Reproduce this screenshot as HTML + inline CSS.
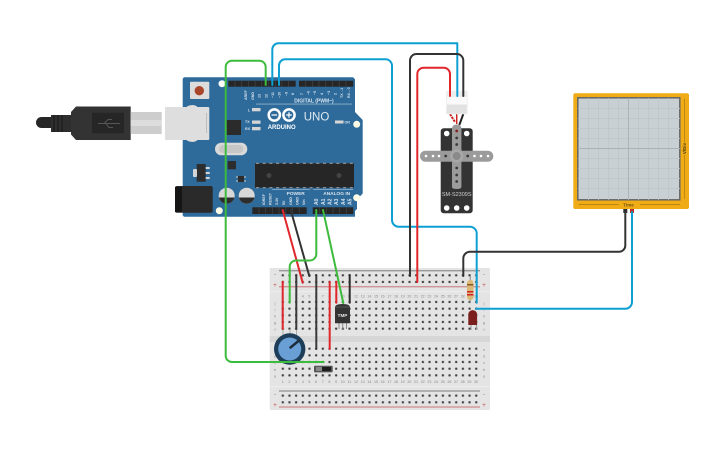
<!DOCTYPE html>
<html><head><meta charset="utf-8">
<style>
html,body{margin:0;padding:0;background:#fff;width:725px;height:453px;overflow:hidden}
svg{display:block;filter:blur(.3px)}
text{font-family:"Liberation Sans",sans-serif}
.w{fill:none;stroke-width:2;stroke-linecap:round;stroke-linejoin:round}
.pl{font-size:3.6px;fill:#d8e4ee;font-weight:bold}
.bn{font-size:3.6px;fill:#888;text-anchor:middle}
</style></head><body>
<svg width="725" height="453" viewBox="0 0 725 453" xmlns="http://www.w3.org/2000/svg">
<defs>
<pattern id="h" x="279.4" y="-0.9" width="6.67" height="6.67" patternUnits="userSpaceOnUse"><rect x="2.3" y="1.65" width="2.2" height="2.2" rx=".6" fill="#3f3f3f"/></pattern>
</defs>
<rect width="725" height="453" fill="#fff"/>

<!-- breadboard -->
<rect x="269.7" y="268" width="220.3" height="142" rx="1.5" fill="#e4e4e4"/>
<rect x="269.7" y="291.3" width="220.3" height=".8" fill="#f1f1f1"/>
<rect x="269.7" y="386.3" width="220.3" height=".8" fill="#f1f1f1"/>
<rect x="269.7" y="336" width="220.3" height="6" fill="#d7d7d7"/>
<rect x="279" y="270" width="201" height="1.4" fill="#9a9a9a"/>
<rect x="279" y="286" width="201" height="1.4" fill="#cf9494"/>
<rect x="279" y="390.3" width="201" height="1.4" fill="#9a9a9a"/>
<rect x="279" y="406.3" width="201" height="1.4" fill="#cf9494"/>
<rect x="279.4" y="273.5" width="200" height="5.5" fill="url(#h)"/>
<g transform="translate(0,6.65)"><rect x="279.4" y="273.5" width="200" height="5.5" fill="url(#h)"/></g>
<g transform="translate(0,120.3)"><rect x="279.4" y="273.5" width="200" height="5.5" fill="url(#h)"/></g>
<g transform="translate(0,127)"><rect x="279.4" y="273.5" width="200" height="5.5" fill="url(#h)"/></g>
<g fill="url(#h)">
<rect x="279.4" y="300" width="200" height="5"/>
<rect x="279.4" y="306.7" width="200" height="5"/>
<rect x="279.4" y="313.4" width="200" height="5"/>
<rect x="279.4" y="320" width="200" height="5"/>
<rect x="279.4" y="326.7" width="200" height="5"/>
<rect x="279.4" y="346.7" width="200" height="5"/>
<rect x="279.4" y="353.4" width="200" height="5"/>
<rect x="279.4" y="360" width="200" height="5"/>
<rect x="279.4" y="366.7" width="200" height="5"/>
<rect x="279.4" y="373.4" width="200" height="5"/>
</g>
<g class="bn">
<text x="275" y="304.5">j</text><text x="275" y="311">i</text><text x="275" y="317.5">h</text><text x="275" y="324">g</text><text x="275" y="331">f</text>
<text x="275" y="351">e</text><text x="275" y="357.5">d</text><text x="275" y="364">c</text><text x="275" y="371">b</text><text x="275" y="377.5">a</text>
<text x="484" y="304.5">j</text><text x="484" y="311">i</text><text x="484" y="317.5">h</text><text x="484" y="324">g</text><text x="484" y="331">f</text>
<text x="484" y="351">e</text><text x="484" y="357.5">d</text><text x="484" y="364">c</text><text x="484" y="371">b</text><text x="484" y="377.5">a</text>
<text x="282.7" y="383">1</text><text x="289.4" y="383">2</text><text x="296" y="383">3</text><text x="302.7" y="383">4</text><text x="309.4" y="383">5</text><text x="316" y="383">6</text><text x="322.7" y="383">7</text><text x="329.4" y="383">8</text><text x="336" y="383">9</text><text x="342.7" y="383">10</text><text x="349.4" y="383">11</text><text x="356" y="383">12</text><text x="362.7" y="383">13</text><text x="369.4" y="383">14</text><text x="376" y="383">15</text><text x="382.7" y="383">16</text><text x="389.4" y="383">17</text><text x="396" y="383">18</text><text x="402.7" y="383">19</text><text x="409.4" y="383">20</text><text x="416" y="383">21</text><text x="422.7" y="383">22</text><text x="429.4" y="383">23</text><text x="436" y="383">24</text><text x="442.7" y="383">25</text><text x="449.4" y="383">26</text><text x="456" y="383">27</text><text x="462.7" y="383">28</text><text x="469.4" y="383">29</text><text x="476" y="383">30</text>
<text x="282.7" y="297.5">1</text><text x="289.4" y="297.5">2</text><text x="296" y="297.5">3</text><text x="302.7" y="297.5">4</text><text x="309.4" y="297.5">5</text><text x="316" y="297.5">6</text><text x="322.7" y="297.5">7</text><text x="329.4" y="297.5">8</text><text x="336" y="297.5">9</text><text x="342.7" y="297.5">10</text><text x="349.4" y="297.5">11</text><text x="356" y="297.5">12</text><text x="362.7" y="297.5">13</text><text x="369.4" y="297.5">14</text><text x="376" y="297.5">15</text><text x="382.7" y="297.5">16</text><text x="389.4" y="297.5">17</text><text x="396" y="297.5">18</text><text x="402.7" y="297.5">19</text><text x="409.4" y="297.5">20</text><text x="416" y="297.5">21</text><text x="422.7" y="297.5">22</text><text x="429.4" y="297.5">23</text><text x="436" y="297.5">24</text><text x="442.7" y="297.5">25</text><text x="449.4" y="297.5">26</text><text x="456" y="297.5">27</text><text x="462.7" y="297.5">28</text><text x="469.4" y="297.5">29</text><text x="476" y="297.5">30</text>
</g>
<g font-size="6" text-anchor="middle">
<text x="275" y="276" fill="#777">-</text><text x="484" y="276" fill="#777">-</text>
<text x="275" y="287" fill="#c44">+</text><text x="484" y="287" fill="#c44">+</text>
<text x="275" y="396" fill="#777">-</text><text x="484" y="396" fill="#777">-</text>
<text x="275" y="407" fill="#c44">+</text><text x="484" y="407" fill="#c44">+</text>
</g>

<!-- USB cable -->
<path d="M36 122.5a5.5 5.5 0 0 1 5.5-5.5H51V128H41.500a5.500 5.500 0 0 1-5.500-5.500z" fill="#262626"/>
<path d="M51 115h20v17H51z" fill="#2e2e2e"/>
<path d="M54 115v17M58 115v17M62 115v17" stroke="#161616" stroke-width="1"/>
<path d="M71 112l5-5.500h54.700V140H76l-5-5.500z" fill="#333"/>
<rect x="92" y="112.700" width="32" height="20.600" fill="#262626"/>
<path d="M98 123.500h22M104 123.500l4-4h4M106 123.500l3 4h4" stroke="#555" stroke-width="1" fill="none"/>
<rect x="130.700" y="112" width="31" height="22" fill="#cdcdcd"/>
<rect x="130.700" y="120" width="31" height="6" fill="#dcdcdc"/>

<!-- Arduino -->
<path d="M184 77.300H353l2 2V112l7.700 8V193.500l-5.700 6V209l-2 2v5.700H184l-1.300-1.300V78.600z" fill="#2e6a9a"/>
<rect x="165" y="107" width="44.300" height="33" rx="1" fill="#dedede"/>
<path d="M187 107q6-3 10 0M187 140q6 3 10 0" fill="#dedede" stroke="#dedede"/>
<rect x="206" y="113" width="1" height="20" fill="#bbb"/>
<rect x="190" y="81.700" width="19.300" height="17.300" rx="1" fill="#dcdcdc"/>
<circle cx="199.300" cy="90.700" r="4.700" fill="#a8452a"/>
<circle cx="222" cy="83.700" r="3.500" fill="#fff"/><circle cx="356.700" cy="124.300" r="3.500" fill="#fffde8"/><circle cx="356.700" cy="197.700" r="3.500" fill="#fffde8"/><circle cx="219.300" cy="210.700" r="3.500" fill="#fffde8"/>
<rect x="228.300" y="80.700" width="67.400" height="6" fill="#262626"/>
<path d="M235 80.700v6M241.700 80.700v6M248.400 80.700v6M255.100 80.700v6M261.800 80.700v6M268.500 80.700v6M275.200 80.700v6M281.900 80.700v6M288.600 80.700v6" stroke="#484848" stroke-width=".6"/>
<rect x="299" y="80.700" width="54.300" height="6" fill="#262626"/>
<path d="M305.700 80.700v6M312.400 80.700v6M319 80.700v6M325.800 80.700v6M332.500 80.700v6M339.200 80.700v6M346 80.700v6" stroke="#484848" stroke-width=".6"/>
<rect x="252.300" y="207.300" width="54.400" height="6.700" fill="#262626"/>
<path d="M259 207.300v6.700M265.700 207.300v6.700M272.400 207.300v6.700M279 207.300v6.700M285.800 207.300v6.700M292.500 207.300v6.700M299.200 207.300v6.700" stroke="#484848" stroke-width=".6"/>
<rect x="312.700" y="207.300" width="40.600" height="6.700" fill="#262626"/>
<path d="M319.500 207.300v6.700M326.200 207.300v6.700M333 207.300v6.700M339.700 207.300v6.700M346.500 207.300v6.700" stroke="#484848" stroke-width=".6"/>

<g class="pl">
<text transform="translate(247,100) rotate(-90)">AREF</text>
<text transform="translate(254,100) rotate(-90)">GND</text>
<text transform="translate(260.500,98) rotate(-90)">13</text>
<text transform="translate(267.300,98) rotate(-90)">12</text>
<text transform="translate(274,98) rotate(-90)">~11</text>
<text transform="translate(280.700,98) rotate(-90)">~10</text>
<text transform="translate(287.500,96) rotate(-90)">~9</text>
<text transform="translate(294,95) rotate(-90)">8</text>
<text transform="translate(303,95) rotate(-90)">7</text>
<text transform="translate(309.500,95) rotate(-90)">~6</text>
<text transform="translate(316,95) rotate(-90)">~5</text>
<text transform="translate(323,95) rotate(-90)">4</text>
<text transform="translate(330,95) rotate(-90)">~3</text>
<text transform="translate(336.500,95) rotate(-90)">2</text>
<text transform="translate(343,98) rotate(-90)">TX→1</text>
<text transform="translate(350,98) rotate(-90)">RX←0</text>
<text transform="translate(265,205) rotate(-90)">IOREF</text>
<text transform="translate(271.500,205) rotate(-90)">RESET</text>
<text transform="translate(278,205) rotate(-90)">3.3V</text>
<text transform="translate(285,205) rotate(-90)">5V</text>
<text transform="translate(292,205) rotate(-90)">GND</text>
<text transform="translate(298.500,205) rotate(-90)">GND</text>
<text transform="translate(305,205) rotate(-90)">Vin</text>
<text transform="translate(318,205) rotate(-90)" font-size="5">A0</text>
<text transform="translate(325,205) rotate(-90)" font-size="5">A1</text>
<text transform="translate(331.500,205) rotate(-90)" font-size="5">A2</text>
<text transform="translate(338,205) rotate(-90)" font-size="5">A3</text>
<text transform="translate(345,205) rotate(-90)" font-size="5">A4</text>
<text transform="translate(351.500,205) rotate(-90)" font-size="5">A5</text>
</g>
<text x="314" y="102.300" font-size="5" font-weight="bold" fill="#d8e4ee" text-anchor="middle">DIGITAL (PWM~)</text>
<rect x="256" y="103.700" width="96" height=".7" fill="#a9c4d9"/>
<text x="295.700" y="195" font-size="4.800" font-weight="bold" fill="#d8e4ee" text-anchor="middle">POWER</text>
<text x="336.700" y="195" font-size="4.800" font-weight="bold" fill="#d8e4ee" text-anchor="middle">ANALOG IN</text>
<path d="M272 189.700h38M313 189.700h40" stroke="#a9c4d9" stroke-width=".6"/>
<g fill="none" stroke="#fff" stroke-width="2.500"><circle cx="274.300" cy="115" r="5.600"/><circle cx="289" cy="115" r="5.600"/></g>
<path d="M271.500 115h5.600M286.200 115h5.600M289 112.200v5.600" stroke="#fff" stroke-width="1.200"/>
<text x="281.700" y="129" font-size="6" font-weight="bold" fill="#fff" text-anchor="middle">ARDUINO</text>
<text x="316.500" y="120.300" font-size="11.500" fill="#dfe9f1" text-anchor="middle">UNO</text>
<text x="248" y="111.500" class="pl">L</text><text x="245" y="123" class="pl">TX</text><text x="245" y="130" class="pl">RX</text><text x="344.500" y="123.500" class="pl">ON</text>
<rect x="252" y="108" width="8.500" height="3.300" fill="#d5d5d5"/><rect x="252" y="120.500" width="8.500" height="3.300" fill="#d5d5d5"/><rect x="252" y="127" width="8.500" height="3.300" fill="#d5d5d5"/><rect x="335" y="120.500" width="8.500" height="3" fill="#d5d5d5"/>
<rect x="226.700" y="120" width="14.300" height="15" fill="#2b2b2b"/>
<rect x="215" y="142.700" width="32.300" height="12.600" rx="6.300" fill="#d9d9d9"/>
<rect x="219" y="145" width="24.300" height="8" rx="4" fill="#c6c6c6"/>
<rect x="227.700" y="161" width="8.300" height="8.300" fill="#2d2d2d"/>
<rect x="255" y="163.300" width="99" height="24.400" fill="#262626"/>
<path d="M256 163.300h97M256 187.700h97" stroke="#999" stroke-width="1.200" stroke-dasharray="3 3.700"/>
<circle cx="269" cy="175.500" r="2.500" fill="#444"/><circle cx="339" cy="175.500" r="2.500" fill="#444"/>
<rect x="196.700" y="164" width="9" height="17.700" fill="#2d2d2d"/>
<rect x="193" y="169" width="4" height="8" rx="1" fill="#d5d5d5"/>
<path d="M205.700 168h4M205.700 173h4M205.700 178h4" stroke="#d5d5d5" stroke-width="2"/>
<rect x="238" y="176" width="6" height="6" fill="#2d2d2d"/>
<path d="M236 177h2M236 181h2M244 177h2M244 181h2" stroke="#ccc" stroke-width="1"/>
<rect x="175" y="186" width="37.700" height="26.700" rx="2" fill="#2a2a2a"/>
<rect x="175" y="187" width="7" height="25" fill="#151515"/>
<circle cx="226.700" cy="195.700" r="8" fill="#d8d8d8"/><path d="M218.900 197.500a8 8 0 0 0 15.600 0z" fill="#2d2d2d"/>
<circle cx="246.700" cy="195.700" r="8" fill="#d8d8d8"/><path d="M238.900 197.500a8 8 0 0 0 15.600 0z" fill="#2d2d2d"/>

<!-- Servo -->
<rect x="440.700" y="128.300" width="32" height="85" rx="3" fill="#333"/>
<circle cx="446.700" cy="133.500" r="2.800" fill="#fff"/><circle cx="466.700" cy="133.500" r="2.800" fill="#fff"/>
<circle cx="446.700" cy="208" r="2.800" fill="#fff"/><circle cx="456.700" cy="208" r="2.800" fill="#fff"/><circle cx="466.700" cy="208" r="2.800" fill="#fff"/>
<text x="456.700" y="196" font-size="5.500" fill="#cfcfcf" text-anchor="middle">SM-S2309S</text>
<path d="M450 114l5 8" stroke="#c22" stroke-width="2" stroke-dasharray="2.500 .8" fill="none"/>
<path d="M456.700 114v10" stroke="#c22" stroke-width="1.500" fill="none"/>
<path d="M463.300 114l-4 11" stroke="#222" stroke-width="2" fill="none"/>
<rect x="420" y="150.700" width="73.300" height="11" rx="5.500" fill="#9b9b9b"/>
<path d="M452 187v-58q0-4.500 4.700-4.500t4.700 4.500v58q0 2-4.700 2t-4.700-2z" fill="#9b9b9b"/>
<path d="M445 156q8-2 8-12h7.500q0 10 8 12q-8 2-8 12h-7.500q0-10-8-12z" fill="#9b9b9b"/>
<circle cx="456.700" cy="156" r="6.500" fill="#a8a8a8"/><circle cx="456.700" cy="156" r="4" fill="#8a8a8a"/>
<g fill="#fff"><circle cx="426" cy="156" r="1.300"/><circle cx="433" cy="156" r="1.300"/><circle cx="439" cy="156" r="1.300"/><circle cx="474.500" cy="156" r="1.300"/><circle cx="481" cy="156" r="1.300"/><circle cx="488" cy="156" r="1.300"/></g>
<g fill="#3a3a3a"><circle cx="445.700" cy="156" r="1.400"/><circle cx="467.700" cy="156" r="1.400"/><circle cx="456.700" cy="138" r="1.400"/><circle cx="456.700" cy="144.500" r="1.400"/><circle cx="456.700" cy="168" r="1.400"/><circle cx="456.700" cy="175" r="1.400"/><circle cx="456.700" cy="181.500" r="1.400"/></g>
<circle cx="456.700" cy="131" r="1.400" fill="#8c2020"/>
<rect x="446" y="90.700" width="21.700" height="23.600" rx="1" fill="#eeeeee"/>
<rect x="447" y="97" width="19.700" height="7" fill="#fafafa"/>
<rect x="447" y="105" width="19.700" height="8.500" fill="#e2e2e2"/>

<!-- Oscilloscope -->
<rect x="573.300" y="93.300" width="115.700" height="115.700" rx="2" fill="#f0ac17"/>
<rect x="577.800" y="97.800" width="102" height="102" fill="#c8d0d3" stroke="#666" stroke-width="1.500"/>
<g stroke="#bcc5c8" stroke-width=".7">
<path d="M588.500 98v102M598.500 98v102M608.500 98v102M618.500 98v102M638.500 98v102M648.500 98v102M658.500 98v102M668.500 98v102"/>
<path d="M578 108.500h102M578 118.500h102M578 128.500h102M578 138.500h102M578 158.500h102M578 168.500h102M578 178.500h102M578 188.500h102"/>
</g>
<path d="M628.500 98v102M578 148.500h102" stroke="#a9b3b6" stroke-width=".9"/>
<path d="M578.500 204.500h40M640 204.500h40" stroke="#a87a10" stroke-width=".7"/>
<path d="M684.500 98.500v44M684.500 155v44" stroke="#a87a10" stroke-width=".7"/>
<text x="628.500" y="206.300" font-size="4.500" font-weight="bold" fill="#6b5010" text-anchor="middle">Time</text>
<text transform="translate(685.800,148.500) rotate(-90)" font-size="4.500" font-weight="bold" fill="#554010" text-anchor="middle">V/Div</text>
<rect x="623.300" y="209" width="4" height="4" fill="#2d2d2d"/>
<rect x="630" y="209" width="4" height="4" fill="#b83020"/>

<!-- Breadboard components -->
<path d="M470.300 303v-27" stroke="#999" stroke-width="1.200"/>
<rect x="467" y="280" width="6.500" height="20" rx="3" fill="#d9b878"/>
<rect x="467" y="284" width="6.500" height="1.500" fill="#8a5a20"/><rect x="467" y="291" width="6.500" height="1.500" fill="#d3222a"/><rect x="467" y="294" width="6.500" height="1.500" fill="#d3222a"/>
<path d="M471 325v5M476.500 325v5" stroke="#999" stroke-width="1"/>
<path d="M468.300 325v-10.500a4.400 4.400 0 0 1 8.800 0V325z" fill="#7a1e1e"/>
<path d="M339 323v6M342.700 323v6M346.500 323v6" stroke="#8a8a8a" stroke-width="1" fill="none"/>
<rect x="314" y="365.700" width="18.700" height="6.700" rx="1" fill="#555"/>
<rect x="322" y="367" width="9" height="4" fill="#1d1d1d"/>
<rect x="316" y="367" width="6" height="4" fill="#888"/>
<path d="M283 329v6M290 329v6M296.500 329v6" stroke="#aaa" stroke-width="1"/>
<circle cx="289.700" cy="349" r="15.700" fill="#1d3d58"/>
<circle cx="289.700" cy="349" r="11.500" fill="#6a9fd6"/>
<path d="M290.500 347.500l8-6.500" stroke="#1c2c3c" stroke-width="2.500" stroke-linecap="round"/>

<!-- Wires -->
<g class="w">
<path d="M282.700 281.700V329" stroke="#e0262b"/>
<path d="M296.300 275V329" stroke="#3a3a3a"/>
<path d="M316.300 275V349" stroke="#3a3a3a"/>
<path d="M329.700 281.700V349" stroke="#e0262b"/>
<path d="M336.300 281.700V302.700" stroke="#e0262b"/>
<path d="M349.700 275V302.700" stroke="#2d2d2d"/>
<path d="M282.700 210L302.700 282.700" stroke="#e0262b"/>
<path d="M290.700 210L309.300 276" stroke="#333"/>
<path d="M316.300 210V254a6.500 6.500 0 0 1-6.500 6.500H296a6.300 6.300 0 0 0-6.300 6.300V302.700" stroke="#3dbb3d"/>
<path d="M323 210L343.300 303" stroke="#3dbb3d"/>
<path d="M265.700 85V67a6.300 6.300 0 0 0-6.300-6.300H232a6.300 6.300 0 0 0-6.300 6.300V355.700a6.300 6.300 0 0 0 6.300 6.300H323.700" stroke="#3dbb3d"/>
<path d="M272.300 85V49.500a6.200 6.200 0 0 1 6.200-6.200H457.300V96" stroke="#0e9fd2"/>
<path d="M279 85V65.500a6.200 6.200 0 0 1 6.200-6.200H385.500a6.500 6.500 0 0 1 6.500 6.500V220a6.700 6.700 0 0 0 6.700 6.700H470a6.700 6.700 0 0 1 6.700 6.700V302.700" stroke="#0e9fd2"/>
<path d="M463.300 96V60.500a6.500 6.500 0 0 0-6.500-6.500H416.500a6.500 6.500 0 0 0-6.500 6.500V276" stroke="#333"/>
<path d="M450 96V74a6.300 6.300 0 0 0-6.300-6.300H423.600a6.300 6.300 0 0 0-6.300 6.300V282" stroke="#e0262b"/>
<path d="M625.300 212V245.500a6.300 6.300 0 0 1-6.300 6.300H470a6.700 6.700 0 0 0-6.700 6.700V276" stroke="#333"/>
<path d="M632 212V302a6.700 6.700 0 0 1-6.700 6.700H476" stroke="#0e9fd2"/>
</g>

<!-- TMP sensor -->
<path d="M335 323.300V307.500q0-3.500 7.500-3.500t7.500 3.500v15.800z" fill="#333"/>
<rect x="335" y="306.500" width="15" height="1" fill="#555"/>
<text x="342.500" y="317" font-size="4.600" font-weight="bold" fill="#e5e5e5" text-anchor="middle">TMP</text>
</svg>
</body></html>
